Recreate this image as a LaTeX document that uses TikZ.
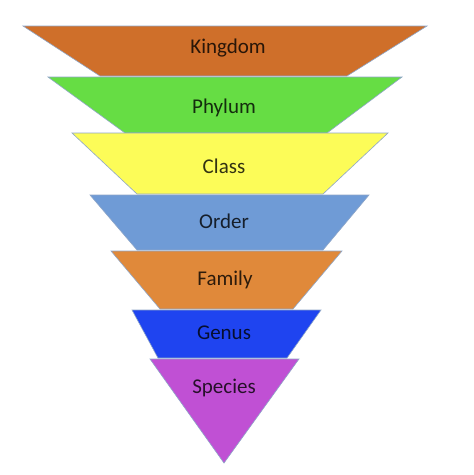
\documentclass[tikz,border=0pt]{standalone}
\usepackage{fontspec}
\setmainfont{Carlito}
\usetikzlibrary{positioning}
\definecolor{edge}{HTML}{8EA6C8}
\definecolor{kingdomc}{HTML}{CF6F2A}
\definecolor{phylumc}{HTML}{66DD44}
\definecolor{classc}{HTML}{FCFC58}
\definecolor{orderc}{HTML}{6F9BD6}
\definecolor{familyc}{HTML}{E0893A}
\definecolor{genusc}{HTML}{1F44F0}
\definecolor{speciesc}{HTML}{C050D4}
\tikzset{
  layer/.style={draw=edge, line width=0.6pt, fill=#1},
  lab/.style={font=\fontsize{21pt}{25pt}\selectfont, text=#1!20!black, inner sep=0pt},
}

\begin{document}
\begin{tikzpicture}[x=1pt, y=-1pt]
    \useasboundingbox[fill=white] (0,0) rectangle (474,475);
    % layers, top to bottom
    \draw[layer=kingdomc] (23,26) -- (427,26) -- (347,76) -- (100,76) -- cycle;
    \node[lab=kingdomc] (kingdom) at (228,48) {Kingdom};
    \draw[layer=phylumc] (48,77) -- (402,77) -- (327,133) -- (125,133) -- cycle;
    \node[lab=phylumc] (phylum) at (224,108) {Phylum};
    \draw[layer=classc] (72,133) -- (388,133) -- (323,194) -- (137,194) -- cycle;
    \node[lab=classc] (class) at (224,166) {Class};
    \draw[layer=orderc] (90,195) -- (369,195) -- (323,250) -- (137,250) -- cycle;
    \node[lab=orderc] (order) at (224,221) {Order};
    \draw[layer=familyc] (111,251) -- (342,251) -- (293,309) -- (160,309) -- cycle;
    \node[lab=familyc] (family) at (225,280) {Family};
    \draw[layer=genusc] (132,310) -- (321,310) -- (287,358) -- (158,358) -- cycle;
    \node[lab=genusc] (genus) at (224,333) {Genus};
    \draw[layer=speciesc] (150,359) -- (299,359) -- (224,463) -- cycle;
    \node[lab=speciesc] (species) at (224,388) {Species};
  \end{tikzpicture}
\end{document}
